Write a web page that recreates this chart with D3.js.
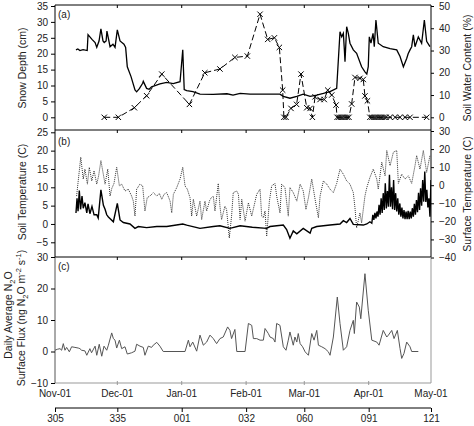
<!DOCTYPE html>
<html>
<head>
<meta charset="utf-8">
<script src="https://cdn.jsdelivr.net/npm/d3@7"></script>
<style>
  body { margin: 0; background: #fff; }
  svg { display: block; font-family: "Liberation Sans", Arial, sans-serif; }
  .tick text { font-size: 10px; fill: #222; }
  .tick line { stroke: #000; }
</style>
</head>
<body>
<svg id="chart" width="474" height="426"></svg>
<script>
// x axis: day of year (Nov 2000 -> May 2001), 366 = Jan 1
const monthDays = [305, 335, 366, 397, 425, 456, 486];
const monthLabels = ["Nov-01", "Dec-01", "Jan-01", "Feb-01", "Mar-01", "Apr-01", "May-01"];
const doyLabels = ["305", "335", "001", "032", "060", "091", "121"];

const snowTicks = [0, 5, 10, 15, 20, 25, 30, 35];
const swcTicks = [0, 10, 20, 30, 40, 50];
const soilTicks = [-5, 0, 5, 10, 15, 20, 25];
const surfTicks = [-40, -30, -20, -10, 0, 10, 20, 30];
const fluxTicks = [-10, 0, 10, 20, 30];

// (a) snow depth, cm
const snowDepth = [
  [315.1, 21.2], [316, 21.5], [317, 21.0], [318.5, 21.3], [320.5, 21], [320.9, 26], [322.8, 24.5], [324.3, 23.5],
  [325.1, 22], [326.2, 24], [327.1, 27.8], [328.1, 24], [328.7, 23.5], [329.6, 24], [330, 27.1], [331.5, 22.2],
  [332.9, 23], [333.9, 22], [335, 27.5], [336.3, 24], [338.2, 23], [339, 22], [339.8, 15.9], [341.6, 12.8],
  [343.5, 8.6], [344.3, 8], [345.6, 9], [347.2, 10.7], [347.5, 11.3], [349.1, 9.1], [350.3, 8.8], [351.5, 9.6],
  [355.5, 10.5], [358.8, 11], [361.9, 10.6], [365.2, 11.2], [366.5, 21.2], [367.2, 8.7], [368.4, 8.4], [371.4, 8.05],
  [374.8, 7.3], [381.1, 7.2], [387.8, 7.4], [390.7, 7.0], [394.1, 7.5], [398.9, 7.3], [405.1, 7.3], [413.3, 7.3],
  [414.9, 6.6], [418.1, 6.0], [421.4, 6.6], [424.5, 7.3], [427.8, 6.6], [431, 7.0], [434.2, 7.5], [437.4, 8.05],
  [440.6, 9.1], [442.2, 26.9], [443, 25.3], [443.8, 26.4], [444.3, 21.2], [444.6, 17.5], [445.4, 28.5], [446.2, 26.4],
  [447, 23.3], [448.6, 21.2], [450.2, 20.1], [452.6, 15.9], [454.2, 14.3], [455.1, 13.6], [455.8, 15.9], [456.3, 25.3],
  [457.1, 23.3], [458.1, 26.4], [458.7, 22.2], [459.5, 30.6], [460.6, 23.3], [463, 22.2], [466.3, 21.6], [469.5, 21.2],
  [471.1, 19.1], [472.7, 15.9], [474.3, 18.5], [475, 20], [475.9, 21.2], [476.7, 22.2], [477.5, 25.9], [478.3, 22.2],
  [479.9, 25.3], [481.5, 23.3], [482.8, 30.6], [483.9, 23.9], [485.5, 22.2]
];

// (a) soil water content, %
const soilWater = [
  [328.7, 0], [335.5, 0], [343.2, 4.3], [349.1, 9.7], [356.4, 19.4], [369.7, 5.8], [377.1, 20], [384.4, 21.7],
  [391.6, 26.9], [397.6, 27.5], [403.7, 46.3], [407.4, 35], [410.6, 35.7], [413, 31.4], [414.6, 12.2], [415.2, 0],
  [416.2, 0], [418.6, 4], [421.3, 5.8], [423.4, 19.4], [426.2, 4.3], [427.8, 4], [428.9, 0], [430.2, 9.2],
  [432.6, 8], [434.6, 8], [436.3, 12.2], [438.2, 10], [440.3, 5.5], [440.8, 0], [441.7, 0], [442.7, 0],
  [443.6, 0], [444.6, 0], [445.6, 0], [446.5, 0], [447.8, 6], [449.4, 17.9], [451.8, 17.5], [453.4, 17],
  [454.2, 9.6], [455.4, 7.4], [456.6, 0], [457.6, 0], [458.6, 0], [459.5, 0], [460.5, 0], [461.5, 0],
  [462.4, 0], [463.4, 0], [464.3, 0], [466.3, 0], [468.7, 0], [471.1, 0], [473.5, 0], [475.9, 0], [483.9, 0]
];

// (b) soil temperature, C
const soilTemp = [
  [315.1, 3], [315.6, 7], [316.1, 3.5], [316.7, 9.1], [317.3, 4], [318, 7.6], [318.6, 4.3], [319.4, 5.8],
  [320.3, 3], [320.9, 5.5], [321.8, 2.8], [322.8, 4.8], [323.8, 2.5], [325.1, 2.5], [325.8, 1.6], [327.1, 9.3],
  [328.3, 5.1], [329.1, 4], [329.9, 2.5], [330.7, 1.9], [333.1, 0.6], [335, 5.6], [336.3, 1.1], [337.9, 0.4],
  [341.1, 0], [343.5, -1.2], [345.1, -0.7], [349.1, -1], [354, -0.7], [358.8, -0.7], [366.5, 0], [368.4, -0.3],
  [374.8, -1.2], [381.2, -0.7], [384.4, -0.5], [389.2, -1.2], [394.1, -0.5], [400, -0.9], [406.9, -1.2], [408.5, -0.7],
  [414.9, -0.3], [416.5, -1.5], [418.1, -3.9], [419.7, -1.9], [421.4, -2.7], [424.5, -1.2], [427.8, -2.5], [428.6, -1.2],
  [431, -0.7], [434.2, -0.5], [437.4, -0.3], [442.2, 0], [443.8, 0.9], [445.4, 0.4], [447, 1.5], [448.6, -0.1],
  [453.4, -0.3], [455.1, 0], [456.6, 0.6], [457.5, 0.2], [458, 2.5], [458.5, 1.1], [459, 3], [459.5, 1.5],
  [460, 3.4], [460.5, 2.0], [461, 5.2], [461.5, 2.5], [462, 7], [462.5, 3.0], [463, 8.4], [463.5, 3.8],
  [464, 11.1], [464.5, 4.2], [465, 9], [465.5, 4.7], [466, 13.4], [466.5, 4.7], [467, 10], [467.5, 4],
  [468, 12], [468.5, 3.8], [469, 8.4], [469.5, 3.4], [470, 7], [470.5, 2.5], [471, 5.6], [471.5, 2],
  [472, 4.5], [472.5, 1.5], [473, 3.8], [473.5, 1.3], [474, 3.4], [474.5, 1.3], [475, 3.6], [475.5, 1.3],
  [476, 3.4], [476.5, 1.5], [477, 4.3], [477.5, 2.0], [478, 5.5], [478.5, 2.5], [479, 6.5], [479.5, 3.2],
  [480, 8.5], [480.5, 3.8], [481, 9.7], [481.5, 5], [482, 12], [482.5, 6.1], [483, 14.3], [483.5, 6],
  [484, 9.3], [484.5, 4.5], [485, 7], [485.5, 2.0], [486, 12]
];

// (b) surface temperature, C
const surfaceTemp = [
  [315.4, -6], [317.4, 15.5], [318.6, 3.4], [319.4, 8.9], [320.6, 0.6], [321.5, 9.9], [322.7, 2.4], [323.8, 8],
  [325.1, 0.6], [326, 5.2], [327.1, 13.6], [329.1, 0.6], [330.4, 8.9], [331.5, -6], [332.3, -1.9], [333.4, 1],
  [334.7, 9.9], [336, -0.4], [337.1, 0.6], [338.7, -3.2], [340.3, -2.2], [341.9, -6], [342.7, -8.8], [343.5, -17.1],
  [344.3, -2.2], [345.9, 0.6], [347.2, -0.4], [348.3, -14.3], [349.4, -6.9], [351.1, -5.6], [352.3, -4.1], [354, -6],
  [355.2, -4.5], [356.4, -7.8], [357.5, -5], [358.8, -4.1], [360.4, -8.8], [361.2, -15.3], [362, -5], [363.6, -1.3],
  [365.2, 3.4], [366.5, 9.9], [367.6, -0.4], [368.7, -2.2], [370, -6.9], [370.8, -17.1], [371.6, -7.8], [373.2, -17.1],
  [374.8, -8.8], [375.6, -19], [377.2, -8.8], [378, -14.3], [379.6, -7.8], [381.2, -6], [382, -14.3], [383.6, 1],
  [384.4, -11.6], [385.2, -19], [386.8, -11.6], [387.6, -13.4], [388.9, -29.2], [390, -17.1], [390.8, -4.1], [392.5, -3.2],
  [393.3, -5], [394.1, -19], [394.9, -7.8], [396.5, -19.9], [398.1, -9.7], [399.7, -17.1], [402.1, -5], [403.7, -2.2],
  [404.5, -17.1], [405.3, -18], [406.1, -14.3], [406.9, -28.3], [408.2, -8.8], [409.3, -0.4], [410.9, 1], [411.7, -6],
  [413.3, -15.3], [414.1, 0.6], [415.7, -1.3], [417.3, -17.1], [418.1, -1.3], [419.7, -4.1], [421.4, -8.8], [423, 0.6],
  [424.5, -3.2], [425.8, -13.4], [427, -6.9], [428.6, 3.4], [430.2, -7.8], [431.8, -18], [432.6, -6], [434.2, 2.4],
  [435.8, 0.6], [437.4, -2.2], [439, -4.1], [440.6, 1], [442.2, 8.9], [443.8, 6.1], [445.4, 2.4], [447, 0.6],
  [448.6, -4.1], [449.4, -12.5], [450.2, -23.6], [451.8, -15.3], [452.6, -20.9], [453.4, -13.4], [454.2, -6], [455.1, -1.3],
  [456.6, 4.3], [458.2, 8.9], [459.9, 3.4], [460.6, -2.2], [462.3, 12.7], [463.9, 5.2], [464.7, 19.2], [466.3, 10.8],
  [467.9, 18.3], [469.5, 19.2], [470.3, 1], [471.9, 6.1], [473.5, 3.4], [475.1, 5.2], [476.7, 1], [478.3, 10.8],
  [479.1, 16.4], [480.7, 8.9], [482.3, 19.2], [483.9, 7.1], [485.5, 16.4]
];

// (c) daily average N2O surface flux, ng N2O m-2 s-1
const n2oFlux = [
  [305, 0.4], [306.1, 0.7], [307.4, 0.9], [308.2, 0.4], [309, 2.5], [309.8, 0.4], [310.6, 1.3], [311.9, -0.1],
  [313, 1.5], [314.6, 1.3], [316.2, 1.1], [317, 0.9], [317.8, 0.4], [319.4, 0.2], [320.3, -1.2], [321.8, 0.9],
  [322.6, -0.4], [324.3, 1.7], [325.1, -1.2], [326.3, 2.3], [327.5, -1.5], [328.6, 1.7], [329.9, 0.4], [330.7, 2.0],
  [332.3, 5.9], [333.1, 4.1], [333.9, 3.6], [334.7, 1.1], [336, 3.6], [337.1, 0.9], [338.7, 1.5], [339.8, -0.8],
  [341.9, -0.4], [343.5, 0.1], [344.3, 2.3], [345.9, 1.7], [347.5, 1.3], [348.3, -1.2], [349.9, 1.7], [351.5, 1.3],
  [352.3, 2.0], [354, 2.9], [355.5, 1.7], [357.1, 0], [367.6, 0], [369.2, 3.6], [370, 1.5], [371.3, 3.0],
  [373.2, 0.1], [374.8, 5.2], [376.4, 2.0], [378, 3.0], [379.6, 5.2], [381.2, 4.1], [382.8, 2.5], [384.4, 4.1],
  [386, 4.6], [388.1, 7.8], [389.2, 6.7], [390, 4.1], [391.6, 7.0], [392.5, 0], [396.5, 0], [398.1, 8.9],
  [399.7, 8.3], [400.5, 4.1], [402.1, 4.1], [403.7, 3.6], [405.3, 3.6], [406.1, 7.3], [407.7, 5.7], [408.5, 4.6],
  [410.1, 4.1], [410.9, 3.0], [411.7, 8.9], [413.3, 8.3], [414.9, 1.5], [416.2, 0.4], [417.3, 3.6], [418.1, 6.2],
  [419.7, 2.0], [420.5, 4.6], [421.4, 3.0], [422.1, 5.7], [423, 2.5], [424.2, 1.5], [425.4, -0.1], [427, -1.2],
  [428.6, 5.7], [429.7, 3.6], [431, 6.7], [431.8, 2.0], [433.4, 1.5], [435, 0.9], [436.6, -0.1], [437.4, -1.2],
  [439, 4.6], [440.9, 17.3], [442.2, 8.9], [443.8, 0.4], [445.4, 1.5], [447, 6.7], [448.6, 9.9], [449.1, 5.7],
  [450.2, 15.7], [451.5, 14.1], [452.2, 10.4], [454.2, 24.7], [455.8, 13.1], [457.5, 3.6], [459.9, 3.0], [461, 2.0],
  [463, 6.7], [464.7, 4.6], [465.5, 5.2], [467.1, 6.7], [468.2, 4.1], [469.8, 6.7], [471.1, 0.9], [471.9, -2.2],
  [473, -0.6], [474.3, 3.0], [475.9, 1.5], [476.7, 0], [479.9, 0]
];

// ---- layout ----
const svg = d3.select('#chart');
const left = 55, right = 431;
const panelA = { top: 5, bottom: 130 };
const panelB = { top: 130, bottom: 257 };
const panelC = { top: 257, bottom: 383 };

const x = d3.scaleLinear().domain([305, 486]).range([left, right]);
const ySnow = d3.scaleLinear().domain([0, 35]).range([117.3, 6]);
const ySwc = d3.scaleLinear().domain([0, 50]).range([117.3, 6]);
const ySoil = d3.scaleLinear().domain([-5, 25]).range([242.3, 132.3]);
const ySurf = d3.scaleLinear().domain([-40, 30]).range([257.5, 131]);
const yFlux = d3.scaleLinear().domain([-10, 30]).range([383, 257]);

// clip paths per panel
const defs = svg.append('defs');
[['clipA', panelA], ['clipB', panelB], ['clipC', panelC]].forEach(([id, p]) => {
  defs.append('clipPath').attr('id', id)
    .append('rect').attr('x', left).attr('y', p.top).attr('width', right - left).attr('height', p.bottom - p.top);
});

function line(yScale) {
  return d3.line().x(d => x(d[0])).y(d => yScale(d[1]));
}

// ---- frames ----
svg.append('line').attr('x1', left).attr('x2', right).attr('y1', panelA.top).attr('y2', panelA.top).attr('stroke', '#000');
svg.append('line').attr('x1', left).attr('x2', right).attr('y1', panelB.top).attr('y2', panelB.top).attr('stroke', '#000');
svg.append('line').attr('x1', left).attr('x2', right).attr('y1', panelC.top).attr('y2', panelC.top).attr('stroke', '#000');
svg.append('line').attr('x1', left).attr('x2', right).attr('y1', panelC.bottom).attr('y2', panelC.bottom).attr('stroke', '#999');
svg.append('line').attr('x1', left).attr('x2', left).attr('y1', panelA.top).attr('y2', panelC.top).attr('stroke', '#000');
svg.append('line').attr('x1', left).attr('x2', left).attr('y1', panelC.top).attr('y2', panelC.bottom).attr('stroke', '#555');
svg.append('line').attr('x1', right).attr('x2', right).attr('y1', panelA.top).attr('y2', panelC.top).attr('stroke', '#000');
svg.append('line').attr('x1', right).attr('x2', right).attr('y1', panelC.top).attr('y2', panelC.bottom).attr('stroke', '#999');

// month ticks on each panel's top edge (pointing in)
[panelA.top, panelB.top, panelC.top].forEach(yy => {
  svg.append('g').selectAll('line').data(monthDays.slice(1, -1)).enter().append('line')
    .attr('x1', d => x(d)).attr('x2', d => x(d))
    .attr('y1', yy).attr('y2', yy + 3).attr('stroke', '#000');
});
svg.append('g').selectAll('line').data(monthDays.slice(1, -1)).enter().append('line')
  .attr('x1', d => x(d)).attr('x2', d => x(d))
  .attr('y1', panelC.bottom - 2).attr('y2', panelC.bottom + 2).attr('stroke', '#999');

// ---- y axes ----
function leftAxis(scale, ticks) {
  const g = svg.append('g').attr('transform', `translate(${left},0)`)
    .call(d3.axisLeft(scale).tickValues(ticks).tickSize(4).tickPadding(3).tickFormat(d3.format('d')));
  g.select('.domain').remove();
  return g;
}
function rightAxis(scale, ticks) {
  const g = svg.append('g').attr('transform', `translate(${right},0)`)
    .call(d3.axisRight(scale).tickValues(ticks).tickSize(3).tickPadding(5).tickFormat(d3.format('d')));
  g.select('.domain').remove();
  return g;
}
leftAxis(ySnow, snowTicks);
rightAxis(ySwc, swcTicks);
leftAxis(ySoil, soilTicks);
rightAxis(ySurf, surfTicks);
leftAxis(yFlux, fluxTicks).selectAll('.tick line').attr('stroke', '#555');

// ---- (a) ----
const gA = svg.append('g').attr('clip-path', 'url(#clipA)');
gA.append('path').datum(snowDepth)
  .attr('d', line(ySnow)).attr('fill', 'none').attr('stroke', '#000').attr('stroke-width', 1.3);
gA.append('path').datum(soilWater)
  .attr('d', line(ySwc)).attr('fill', 'none').attr('stroke', '#000').attr('stroke-width', 1)
  .attr('stroke-dasharray', '6,3');
gA.selectAll('path.xmark').data(soilWater).enter().append('path')
  .attr('class', 'xmark')
  .attr('transform', d => `translate(${x(d[0])},${ySwc(d[1])})`)
  .attr('d', 'M-2.7,-2.7L2.7,2.7M-2.7,2.7L2.7,-2.7')
  .attr('stroke', '#000').attr('stroke-width', 1);

// ---- (b) ----
const gB = svg.append('g').attr('clip-path', 'url(#clipB)');
gB.append('path').datum(surfaceTemp)
  .attr('d', line(ySurf)).attr('fill', 'none').attr('stroke', '#333').attr('stroke-width', 1)
  .attr('stroke-dasharray', '1,1');
gB.append('path').datum(soilTemp)
  .attr('d', line(ySoil)).attr('fill', 'none').attr('stroke', '#000').attr('stroke-width', 1.4);

// ---- (c) ----
const gC = svg.append('g').attr('clip-path', 'url(#clipC)');
gC.append('path').datum(n2oFlux)
  .attr('d', line(yFlux)).attr('fill', 'none').attr('stroke', '#555').attr('stroke-width', 1);

// ---- panel labels ----
[['(a)', 18], ['(b)', 145], ['(c)', 270]].forEach(([t, yy]) => {
  svg.append('text').attr('x', 58).attr('y', yy).attr('font-size', 10).attr('fill', '#222').text(t);
});

// ---- axis titles ----
function vTitle(txt, cx, cy) {
  return svg.append('text')
    .attr('transform', `translate(${cx},${cy}) rotate(-90)`)
    .attr('text-anchor', 'middle').attr('font-size', 10.5).attr('fill', '#222')
    .text(txt);
}
vTitle('Snow Depth (cm)', 26, 68);
vTitle('Soil Temperature (C)', 26, 192);
vTitle('Soil Water Content (%)', 471, 68);
vTitle('Surface Temperature (C)', 471, 194);

// N2O title with sub/superscripts
const t1 = svg.append('text')
  .attr('transform', 'translate(12,315) rotate(-90)')
  .attr('text-anchor', 'middle').attr('font-size', 10.5).attr('fill', '#222');
t1.append('tspan').text('Daily Average N');
t1.append('tspan').attr('dy', 3).attr('font-size', 7.5).text('2');
t1.append('tspan').attr('dy', -3).text('O');

const t2 = svg.append('text')
  .attr('transform', 'translate(25,318) rotate(-90)')
  .attr('text-anchor', 'middle').attr('font-size', 10.5).attr('fill', '#222');
t2.append('tspan').text('Surface Flux (ng N');
t2.append('tspan').attr('dy', 3).attr('font-size', 7.5).text('2');
t2.append('tspan').attr('dy', -3).text('O m');
t2.append('tspan').attr('dy', -4).attr('font-size', 7.5).text('-2');
t2.append('tspan').attr('dy', 4).text(' s');
t2.append('tspan').attr('dy', -4).attr('font-size', 7.5).text('-1');
t2.append('tspan').attr('dy', 4).text(')');

// ---- bottom date axis ----
svg.append('g').selectAll('text').data(monthDays).enter().append('text')
  .attr('x', d => x(d)).attr('y', 397)
  .attr('text-anchor', 'middle').attr('font-size', 10).attr('fill', '#222')
  .text((d, i) => monthLabels[i]);

// ---- day-of-year axis ----
const doyAxis = svg.append('g').attr('transform', 'translate(0,408)')
  .call(d3.axisBottom(x).tickValues(monthDays).tickSize(4).tickPadding(3)
    .tickFormat((d, i) => doyLabels[i]));
doyAxis.select('.domain').attr('stroke', '#000').attr('d', `M${left},0H${right}`);
</script>
</body>
</html>
